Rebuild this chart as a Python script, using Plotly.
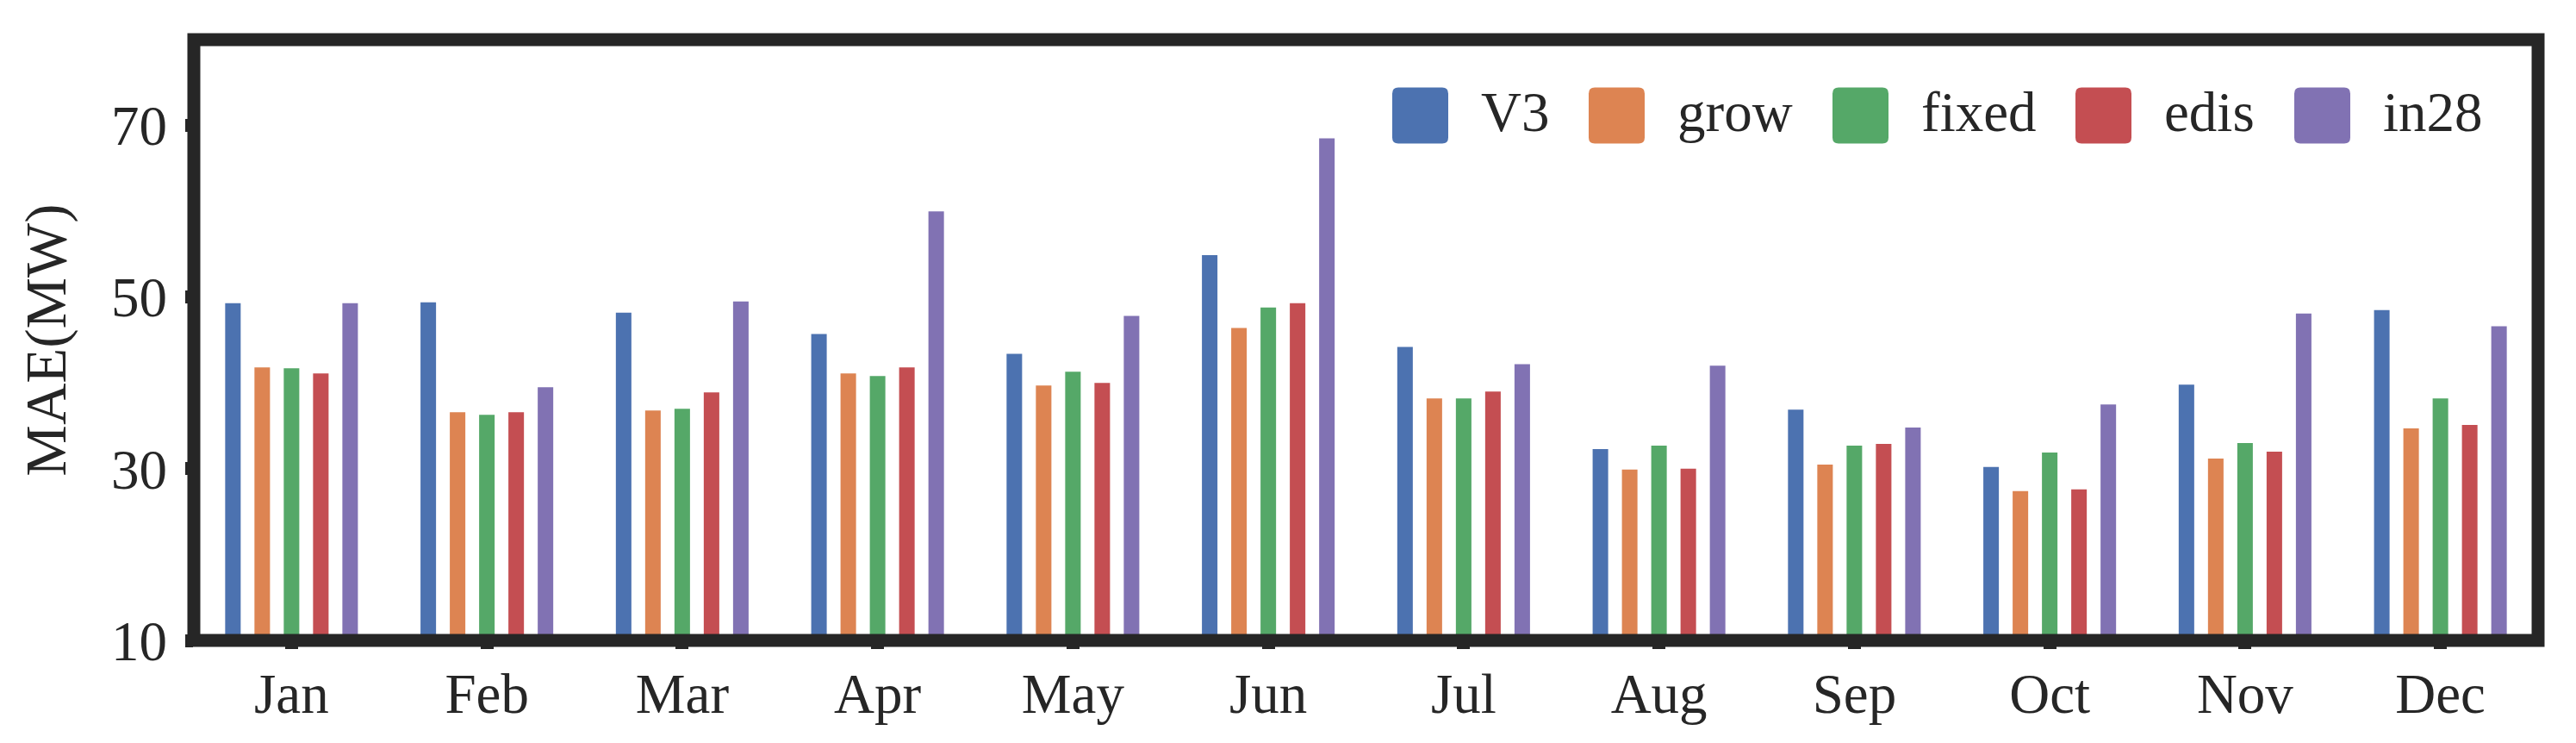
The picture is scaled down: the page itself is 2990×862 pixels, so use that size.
import plotly.graph_objects as go

# data
months = ['Jan', 'Feb', 'Mar', 'Apr', 'May', 'Jun',
          'Jul', 'Aug', 'Sep', 'Oct', 'Nov', 'Dec']
models = ['V3', 'grow', 'fixed', 'edis', 'in28']

v3 = [49.3, 49.4, 48.2, 45.7, 43.4, 54.9, 44.2, 32.3, 36.9, 30.2, 39.8, 48.5]
grow = [41.8, 36.6, 36.8, 41.1, 39.7, 46.4, 38.2, 29.9, 30.5, 27.4, 31.2, 34.7]
fixed = [41.7, 36.3, 37.0, 40.8, 41.3, 48.8, 38.2, 32.7, 32.7, 31.9, 33.0, 38.2]
edis = [41.1, 36.6, 38.9, 41.8, 40.0, 49.3, 39.0, 30.0, 32.9, 27.6, 32.0, 35.1]
in28 = [49.3, 39.5, 49.5, 60.0, 47.8, 68.5, 42.2, 42.0, 34.8, 37.5, 48.1, 46.6]
series = [v3, grow, fixed, edis, in28]

y_ticks = [10, 30, 50, 70]
y_range = [10, 80]

# styling
COLORS = ['#4C72B0', '#DD8452', '#55A868', '#C44E52', '#8172B3']
INK = '#262626'
FONT = 'Liberation Serif'
FS = 65
FRAME_W = 15

# the page body has an 8px margin, so the figure is a bit smaller and the
# plot area (225..2946 x 46..743 on the page) is placed accordingly
OFF = 8
W, H = 2982, 846
ML, MR, MT, MB = 225 - OFF, 44, 46 - OFF, 111

def px_x(p):
    return (p - OFF - ML) / (W - ML - MR)

def px_y(p):
    return (H - MB - (p - OFF)) / (H - MT - MB)

fig = go.Figure()
for name, vals, col in zip(models, series, COLORS):
    fig.add_trace(go.Bar(x=months, y=vals, name=name, marker_color=col,
                         marker_line_width=0, showlegend=False))

fig.update_layout(
    width=W, height=H,
    margin=dict(l=ML, r=MR, t=MT, b=MB),
    paper_bgcolor='white', plot_bgcolor='white',
    barmode='group', bargap=0.25, bargroupgap=0.47,
    font=dict(family=FONT, size=FS, color=INK),
)
fig.update_xaxes(showgrid=False, zeroline=False, showline=False,
                 automargin=False,
                 ticks='outside', ticklen=9, tickwidth=15, tickcolor=INK,
                 ticklabelstandoff=-4, range=[-0.5, 11.5])
fig.update_yaxes(range=y_range, tickvals=y_ticks, showgrid=False,
                 zeroline=False, showline=False, automargin=False,
                 ticks='outside', ticklen=9, tickwidth=15, tickcolor=INK,
                 ticklabelstandoff=8,
                 title=dict(text='MAE(MW)', standoff=30,
                            font=dict(family=FONT, size=FS + 2, color=INK)))

# frame around the plot area
fig.add_shape(type='rect', xref='paper', yref='paper', x0=0, y0=0, x1=1, y1=1,
              line=dict(color=INK, width=FRAME_W), layer='above')

# legend with large rounded swatches
LEGEND_LEFT = [1616, 1844, 2127, 2409, 2663]
LEGEND_CY = 134
SW = 65
s, r = SW / 2, 7
swatch = (f"M{-s + r},{-s} L{s - r},{-s} Q{s},{-s} {s},{-s + r} "
          f"L{s},{s - r} Q{s},{s} {s - r},{s} L{-s + r},{s} "
          f"Q{-s},{s} {-s},{s - r} L{-s},{-s + r} Q{-s},{-s} {-s + r},{-s} Z")
for name, col, left in zip(models, COLORS, LEGEND_LEFT):
    fig.add_shape(type='path', xref='paper', yref='paper',
                  xsizemode='pixel', ysizemode='pixel',
                  xanchor=px_x(left + s), yanchor=px_y(LEGEND_CY),
                  path=swatch, fillcolor=col, line=dict(width=0))
    fig.add_annotation(x=px_x(left + SW + 36), y=px_y(LEGEND_CY - 4),
                       xref='paper', yref='paper', xanchor='left',
                       yanchor='middle', text=name, showarrow=False,
                       font=dict(family=FONT, size=FS, color=INK))

fig.write_html("out.html")
